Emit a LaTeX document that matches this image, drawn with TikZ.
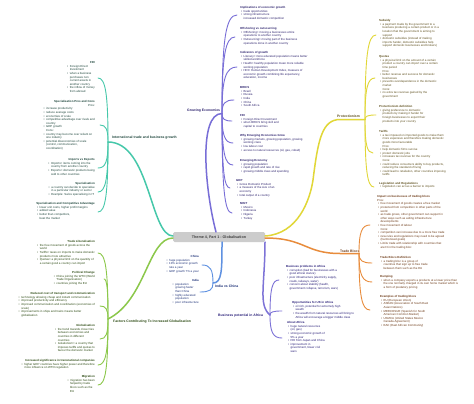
\documentclass[tikz,border=0pt]{standalone}
\usepackage{fontspec}
\setmainfont{Liberation Sans}
\usetikzlibrary{calc}
\definecolor{tealc}{RGB}{70,200,170}
\definecolor{purc}{RGB}{120,110,215}
\definecolor{yelc}{RGB}{225,215,55}
\definecolor{orac}{RGB}{232,140,60}
\definecolor{afc}{RGB}{125,115,215}
\definecolor{bluc}{RGB}{95,145,225}
\definecolor{grnc}{RGB}{140,200,75}
\definecolor{tealt}{RGB}{30,70,60}
\definecolor{purt}{RGB}{45,35,110}
\definecolor{yelt}{RGB}{95,80,30}
\definecolor{orat}{RGB}{110,60,25}
\definecolor{aft}{RGB}{40,30,120}
\definecolor{blut}{RGB}{30,50,120}
\definecolor{grnt}{RGB}{45,75,20}
\newcommand{\Hd}[1]{\multicolumn{2}{@{}l@{}}{\bfseries #1}\\}
\newcommand{\Hdr}[1]{\multicolumn{2}{@{}r@{}}{\bfseries #1}\\}
\newcommand{\Bi}[1]{\textbullet & #1\\}
\newcommand{\Ct}[1]{ & #1\\}
\newcommand{\Blk}[1]{\begin{tabular}{@{\hspace{0.8pt}}c@{\hspace{1.6pt}}l@{}}#1\end{tabular}}
\newcommand{\Br}[3]{\draw[#1] (#2) .. controls ($(#2)!0.75!(#2|-#3)$) and ($(#2|-#3)!0.25!(#3)$) .. (#3);}
\tikzset{
  blk/.style={inner sep=0pt, font=\fontsize{2.9}{3.6}\selectfont},
  rb/.style={blk, anchor=north west},
  lb/.style={blk, anchor=north east},
  mainlbl/.style={inner sep=0pt, font=\fontsize{3.4}{4}\selectfont\bfseries},
  trunk/.style={line width=1.5pt, line cap=round},
  twig/.style={line width=0.9pt, line cap=round},
}
\begin{document}
\begin{tikzpicture}[x=1pt,y=-1pt]
\fill[white] (0,0) rectangle (474,404);
\useasboundingbox (0,0) rectangle (474,404);

% central
\node[fill=black!20, rounded corners=1.5pt, minimum width=92pt, minimum height=10pt, inner sep=0pt,
      font=\fontsize{3.7}{4.4}\selectfont\bfseries, text=black!75] (c) at (219,237) {Theme 4, Part 1 - Globalisation};

% main labels
\node[mainlbl, text=purt, anchor=west] (ge) at (187,111) {Growing Economies};
\node[mainlbl, text=tealt, anchor=west] (it) at (112,138) {International trade and business growth};
\node[mainlbl, text=yelt, anchor=west] (pr) at (337,116) {Protectionism};
\node[mainlbl, text=orat, anchor=west] (tb) at (340,251) {Trade Blocs};
\node[mainlbl, text=aft, anchor=west] (af) at (218,316) {Business potential in Africa};
\node[mainlbl, text=blut, anchor=west] (ic) at (215,286) {India vs China};
\node[mainlbl, text=grnt, anchor=west] (fc) at (113,322) {Factors Contributing To Increased Globalisation};

% branch roots
\coordinate (gep) at (222,113.5);
\coordinate (itp) at (108,142);
\coordinate (prp) at (365,119.5);
\coordinate (tbp) at (359,253.5);
\coordinate (afp) at (270,315);
\coordinate (icp) at (213,283);
\coordinate (fcp) at (108,319);

% trunks
\draw[trunk, purc] (216,232) .. controls (205,190) and (198,113.5) .. (gep);
\draw[trunk, tealc] (173,236) .. controls (150,236) and (150,142) .. (itp);
\draw[trunk, grnc] (173,238) .. controls (148,238) and (146,300) .. (fcp);
\draw[trunk, yelc] (265,236) .. controls (298,234) and (310,200) .. (313,180) .. controls (318,140) and (322,119.5) .. (340,119.5) -- (prp);
\draw[trunk, orac] (265,238) .. controls (305,238) and (305,253.5) .. (340,253.5) -- (tbp);
\draw[trunk, afc] (265,242) .. controls (265,285) and (258,305) .. (afp);
\draw[trunk, bluc] (222,242) .. controls (222,270) and (222,283) .. (icp);

% ===== Growing Economies =====
\begin{scope}[text=purt]
\node[rb] (ge1) at (240,6) {\Blk{\Hd{Implications of economic growth}
\Bi{trade opportunities}
\Bi{strong infrastructure}
\Ct{increased domestic competition}}};
\node[rb] (ge2) at (240,27) {\Blk{\Hd{Offshoring vs outsourcing}
\Bi{Offshoring= moving a businesses entire}
\Ct{operations to another country}
\Bi{Outsourcing= moving part of the business}
\Ct{operations done in another country}}};
\node[rb] (ge3) at (240,51) {\Blk{\Hd{Indicators of growth}
\Bi{Literacy= more educated population means better}
\Ct{skilled workforce}
\Bi{Health= healthy population mean more reliable}
\Ct{working population}
\Bi{HDI= Human Development Index, measure of}
\Ct{economic growth combining life expectancy,}
\Ct{education, income}}};
\node[rb] (ge4) at (240,86) {\Blk{\Hd{BRICS}
\Bi{Brazil}
\Bi{Russia}
\Bi{India}
\Bi{China}
\Bi{South Africa}}};
\node[rb] (ge5) at (240,114) {\Blk{\Hd{FDI}
\Bi{Foreign Direct Investment}
\Bi{when BRICS bring skill and}
\Ct{capital to countries}}};
\node[rb] (ge6) at (240,134) {\Blk{\Hd{Why Emerging Economies Grow}
\Bi{growing markets, growing population, growing}
\Ct{working class}
\Bi{low labour cost}
\Bi{access to natural resources (oil, gas, cobalt)}}};
\node[rb] (ge7) at (240,159) {\Blk{\Hd{Emerging Economy}
\Bi{growing population}
\Bi{rapid growth and rate of rise}
\Bi{growing middle class and spending}}};
\node[rb] (ge8) at (236,179) {\Blk{\Hd{GDP}
\Bi{Gross Domestic Product}
\Bi{a measure of the size of an}
\Ct{economy}
\Bi{total output of a country}}};
\node[rb] (ge9) at (240,202) {\Blk{\Hd{MINT}
\Bi{Mexico}
\Bi{Indonesia}
\Bi{Nigeria}
\Bi{Turkey}}};
\end{scope}
\coordinate (ge1e) at (237,15);
\coordinate (ge2e) at (235,37);
\coordinate (ge3e) at (237,67);
\coordinate (ge4e) at (234,100);
\coordinate (ge5e) at (232,121);
\coordinate (ge6e) at (233,143);
\coordinate (ge7e) at (233,165);
\coordinate (ge8e) at (230,188);
\coordinate (ge9e) at (232,213);
\foreach \i in {1,...,9}{\Br{twig,purc}{gep}{ge\i e}}

% ===== Protectionism =====
\begin{scope}[text=yelt]
\node[rb] (pr1) at (379,19) {\Blk{\Hd{Subsidy}
\Bi{a payment made by the government to a}
\Ct{business producing a certain product or in a}
\Ct{location that the government is aiming to}
\Ct{support}
\Bi{domestic subsidies (instead of making}
\Ct{imports harder, domestic subsidies help}
\Ct{support domestic businesses and brokers)}}};
\node[rb] (pr2) at (379,55) {\Blk{\Hd{Quotas}
\Bi{a physical limit on the amount of a certain}
\Ct{product a country can import over a certain}
\Ct{time period}
\Ct{Pros:}
\Bi{better revenue and success for domestic}
\Ct{businesses}
\Bi{prevents overdependence in the domestic}
\Ct{market}
\Ct{Cons:}
\Bi{no extra tax revenue gained by the}
\Ct{government}}};
\node[rb] (pr3) at (379,105) {\Blk{\Hd{Protectionism definition}
\Bi{giving preference to domestic}
\Ct{products by making it harder for}
\Ct{foreign businesses to export their}
\Ct{products into your country}}};
\node[rb] (pr4) at (379,130) {\Blk{\Hd{Tariffs}
\Bi{a tax imposed on imported goods to make them}
\Ct{more expensive and therefore making domestic}
\Ct{goods more favourable}
\Ct{Pros:}
\Bi{help domestic firms survive}
\Bi{protect domestic jobs}
\Bi{increases tax revenue for the country}
\Ct{Cons:}
\Bi{could reduce consumers ability to buy products,}
\Ct{reducing the standard of living}
\Bi{could lead to retaliation, other countries imposing}
\Ct{tariffs}}};
\node[rb] (pr5) at (379,181.5) {\Blk{\Hd{Legislation and Regulations}
\Bi{legislation can act as a barrier to imports}}};
\end{scope}
\coordinate (pr1e) at (376,35);
\coordinate (pr2e) at (375,78);
\coordinate (pr3e) at (376,115);
\coordinate (pr4e) at (373,153);
\coordinate (pr5e) at (374,187);
\foreach \i in {1,...,5}{\Br{twig,yelc}{prp}{pr\i e}}

% ===== Trade Blocs =====
\begin{scope}[text=orat]
\node[rb] (tb1) at (377,195) {\Blk{\Hd{Impact on businesses of trading blocs}
\Hd{\mdseries Pros:}
\Bi{free movement of goods creates a free market}
\Bi{protected from competition in other parts of the}
\Ct{world}
\Bi{as trade grows, other government can support in}
\Ct{other ways such as aiding infrastructure}
\Ct{developments}
\Bi{free movement of labour}
\Ct{Cons:}
\Bi{competition can increase due to a more free trade}
\Bi{new rules and regulations may need to be agreed}
\Ct{(harmonised goals)}
\Bi{Limits trade with relationship with countries that}
\Ct{aren't in the trading bloc}}};
\node[rb] (tb2) at (380,256) {\Blk{\Hd{Trade Blocs Definition}
\Bi{a trading bloc is a group of}
\Ct{countries that sign up to free trade}
\Ct{between them such as the EU}}};
\node[rb] (tb3) at (380,275) {\Blk{\Hd{Dumping}
\Bi{when a company exports a products at a lower price than}
\Ct{the one normally charged in its own home market which is}
\Ct{a form of predatory pricing}}};
\node[rb] (tb4) at (380,295) {\Blk{\Hd{Examples of trading blocs}
\Bi{EU (European Union)}
\Bi{ASEAN (Association of South East}
\Ct{Asian Nations)}
\Bi{MERCOSUR (Spanish for South}
\Ct{American Common Market)}
\Bi{USMCA (United States Mexico}
\Ct{Canada Agreement)}
\Bi{EAC (East African Community)}}};
\end{scope}
\coordinate (tb1e) at (370,225);
\coordinate (tb2e) at (372,263);
\coordinate (tb3e) at (372,282);
\coordinate (tb4e) at (370,310);
\foreach \i in {1,...,4}{\Br{twig,orac}{tbp}{tb\i e}}

% ===== Business potential in Africa =====
\begin{scope}[text=aft]
\node[rb] (af1) at (286,265) {\Blk{\Hd{Business problems in Africa}
\Bi{corruption (bad for businesses with a}
\Ct{good ethical stance)}
\Bi{poor infrastructure (electricity supply,}
\Ct{roads, railways, water)}
\Bi{concern about stability (health,}
\Ct{government collapse, terrorism, wars)}}};
\node[rb] (af2) at (292,301) {\Blk{\Hd{Opportunities for UK in Africa}
\Bi{oil rich, potential for extremely high}
\Ct{wealth}
\Bi{the wealth from natural resources will bring to}
\Ct{Africa will encourage a bigger middle class}}};
\node[rb] (af3) at (287,321) {\Blk{\Hd{About Africa}
\Bi{huge natural resources}
\Ct{(oil, gas)}
\Bi{strong economic growth of}
\Ct{5\% a year}
\Bi{FDI from Japan and China}
\Bi{improvement in}
\Ct{government, fewer civil}
\Ct{wars}}};
\end{scope}
\coordinate (af1e) at (279,280);
\coordinate (af2e) at (282,311);
\coordinate (af3e) at (282,338);
\foreach \i in {1,...,3}{\Br{twig,afc}{afp}{af\i e}}

% ===== India vs China =====
\begin{scope}[text=blut]
\node[lb] (ic1) at (199,255) {\Blk{\Hdr{China}
\Bi{huge population}
\Bi{10\% economic growth}
\Ct{rate a year}
\Bi{GDP growth 7\% a year}}};
\node[lb] (ic2) at (199,279) {\Blk{\Hdr{India}
\Bi{population}
\Ct{growing faster}
\Ct{than China}
\Bi{highly educated}
\Ct{population}
\Bi{poor infrastructure}}};
\end{scope}
\coordinate (ic1e) at (202,265);
\coordinate (ic2e) at (200,292);
\foreach \i in {1,2}{\Br{twig,bluc}{icp}{ic\i e}}

% ===== International trade =====
\begin{scope}[text=tealt]
\node[lb] (it1) at (95,61) {\Blk{\Hdr{FDI}
\Bi{Foreign Direct}
\Ct{Investment}
\Bi{when a business}
\Ct{purchases non}
\Ct{current assets in}
\Ct{another country}
\Bi{the inflow of money}
\Ct{from abroad}}};
\node[lb] (it2) at (95,100) {\Blk{\Hdr{Specialisation Pros and Cons}
\Hdr{\mdseries Pros:}
\Bi{increase productivity}
\Bi{reduce average costs}
\Bi{economies of scale}
\Bi{competitive advantage over rivals and}
\Ct{country}
\Bi{GDP growth}
\Ct{Cons:}
\Bi{country may become over reliant on}
\Ct{one industry}
\Bi{potential diseconomies of scale}
\Ct{(control, communication,}
\Ct{coordination)}}};
\node[lb] (it3) at (95,158) {\Blk{\Hdr{Imports vs Exports}
\Bi{Imports= items coming into the}
\Ct{country from another country}
\Bi{Exports= domestic products being}
\Ct{sold to other countries}}};
\node[lb] (it4) at (95,182) {\Blk{\Hdr{Specialisation}
\Bi{a country can decide to specialise}
\Ct{in a particular industry or sector}
\Bi{Example: Swiss specialising in IT}}};
\node[lb] (it5) at (95,202) {\Blk{\Hdr{Specialisation and Competitive Advantage}
\Bi{lower unit costs, higher profit margins}
\Bi{added value}
\Bi{better than competitors,}
\Ct{beat the market}}};
\end{scope}
\coordinate (it1e) at (98,78);
\coordinate (it2e) at (100,125);
\coordinate (it3e) at (98,168);
\coordinate (it4e) at (98,192);
\coordinate (it5e) at (98,212);
\foreach \i in {1,...,5}{\Br{twig,tealc}{itp}{it\i e}}

% ===== Factors Contributing =====
\begin{scope}[text=grnt]
\node[lb] (fc1) at (95,240) {\Blk{\Hdr{Trade Liberalisation}
\Bi{the free movement of goods across the}
\Ct{world}
\Bi{Tariffs= taxes on imports to make domestic}
\Ct{products more attractive}
\Bi{Quotas= a physical limit on the quantity of}
\Ct{a certain good a country can import}}};
\node[lb] (fc2) at (95,271) {\Blk{\Hdr{Political Change}
\Bi{China joining the WTO (World}
\Ct{Trade Organisation)}
\Bi{countries joining the EU}}};
\node[lb] (fc3) at (95,292) {\Blk{\Hdr{Reduced cost of transport and communication}
\Bi{technology allowing cheap and instant communication}
\Bi{improved productivity and efficiency}
\Bi{improved communication and coordination (economies of}
\Ct{scale)}
\Bi{improvements in ships and trains means better}
\Ct{globalisation}}};
\node[lb] (fc4) at (95,324) {\Blk{\Hdr{Globalisation}
\Bi{the trend towards closer ties}
\Ct{between economies and}
\Ct{countries in different}
\Ct{countries}
\Bi{Isolationism= a country that}
\Ct{imposes tariffs and quotas to}
\Ct{favour the domestic market}}};
\node[lb] (fc5) at (95,359) {\Blk{\Hdr{Increased significance in transnational companies}
\Bi{higher GDP countries have higher power and therefore}
\Ct{more influence on WTO regulation}}};
\node[lb] (fc6) at (95,375) {\Blk{\Hdr{Migration}
\Bi{migration has been}
\Ct{helped by trade}
\Ct{blocs such as the}
\Ct{EU}}};
\end{scope}
\coordinate (fc1e) at (98,253);
\coordinate (fc2e) at (104,279);
\coordinate (fc3e) at (100,306);
\coordinate (fc4e) at (100,339);
\coordinate (fc5e) at (98,365);
\coordinate (fc6e) at (98,385);
\foreach \i in {1,...,6}{\Br{twig,grnc}{fcp}{fc\i e}}
\end{tikzpicture}
\end{document}
